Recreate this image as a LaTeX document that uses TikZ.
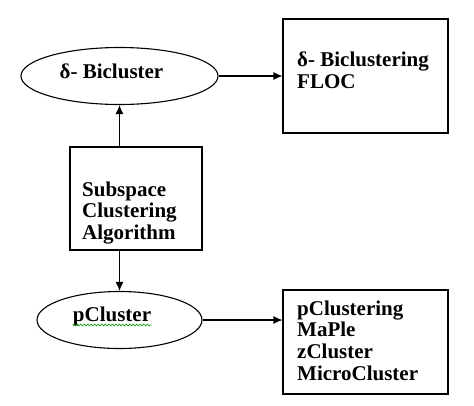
\documentclass[tikz,border=0pt]{standalone}
\usepackage{fontspec}
\setmainfont{Liberation Serif}
\usepackage{tikz}
\usetikzlibrary{calc}
\usetikzlibrary{shapes,arrows,arrows.meta,positioning,shapes.geometric,decorations.pathmorphing}

\begin{document}
\begin{tikzpicture}[x=1pt, y=-1pt]
    % Define block styles
    \tikzstyle{oval} = [ellipse, draw=black, line width=1.1pt, inner sep=0pt]
    \tikzstyle{block} = [rectangle, draw=black, line width=1.1pt, inner sep=0pt]
    \tikzstyle{words} = [inner sep=0pt, align=left, font=\fontsize{21}{21.6}\selectfont\bfseries]
    \tikzstyle{arrow} = [line width=1.1pt,-{Latex[length=9pt,width=8pt]}]

    \useasboundingbox (0,0) rectangle (474,405);

    % Nodes
    \node (bic) [oval, minimum width=197, minimum height=57] at (119.5,76) {};
    \node (floc) [block, minimum width=165, minimum height=114] at (365.5,76) {};
    \node (algo) [block, minimum width=132, minimum height=103] at (136,198.5) {};
    \node (pcl) [oval, minimum width=165, minimum height=57] at (119.5,320) {};
    \node (micro) [block, minimum width=165, minimum height=104] at (365.5,342) {};

    % Texts
    \node (bictext) [words, anchor=base] at (111.5,78.5) {δ- Bicluster};
    \node (floctext) [words, anchor=north west] at (297,52) {δ- Biclustering\\FLOC};
    \node (algotext) [words, anchor=north west] at (82,181.5) {Subspace\\Clustering\\Algorithm};
    \node (pcltext) [words, anchor=base] at (112,321.5) {pCluster};
    \node (microtext) [words, anchor=north west] at (297,300.5) {pClustering\\MaPle\\zCluster\\MicroCluster};
    \draw [green!60!black, line width=0.6pt, decorate, decoration={snake, amplitude=1pt, segment length=3.5pt}]
        ($(pcltext.base west)+(0,3.5)$) -- ($(pcltext.base east)+(0,3.5)$);

    % Arrows between nodes
    \draw [arrow] (bic |- algo.north) -- (bic.south);
    \draw [arrow] (pcl |- algo.south) -- (pcl.north);
    \draw [arrow] (bic.east) -- (bic.east -| floc.west);
    \draw [arrow] (pcl.east) -- (pcl.east -| micro.west);
\end{tikzpicture}
\end{document}
